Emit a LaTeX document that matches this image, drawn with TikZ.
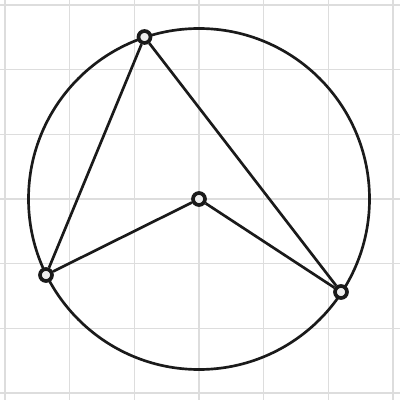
\documentclass[tikz,border=0pt]{standalone}
\usepackage{xcolor}
\usetikzlibrary{positioning, calc}

\definecolor{gridgray}{HTML}{DDDDDD}
\definecolor{inkblack}{HTML}{1A1A1A}
\definecolor{dotfill}{HTML}{EEEEEE}

\tikzset{
  vertex/.style={circle, draw=inkblack, fill=dotfill, line width=2.6pt, minimum size=0.30cm, inner sep=0pt},
  chord/.style={draw=inkblack, line width=1.9pt}
}

\begin{document}
\begin{tikzpicture}[x=0.025cm, y=-0.025cm]
            % Fix the page size
            \useasboundingbox (0,0) rectangle (400,400);

            % Draw the grid
            \foreach \k in {0,...,6} {
                \draw[gridgray, line width=0.9pt] ({5+64.67*\k},0) -- ({5+64.67*\k},400);
                \draw[gridgray, line width=0.9pt] (0,{5+64.67*\k}) -- (400,{5+64.67*\k});
            }

            % Draw the circle
            \draw[chord] (199,199) circle (170.5);

            % Place the points
            \node[vertex] (O) at (199,199) {};
            \node[vertex] (A) at (144.5,37) {};
            \node[vertex] (B) at (46,275) {};
            \node[vertex] (C) at (341,292) {};

            % Draw the inscribed and central angles
            \draw[chord] (B) -- (A) -- (C);
            \draw[chord] (B) -- (O) -- (C);
        \end{tikzpicture}
\end{document}
